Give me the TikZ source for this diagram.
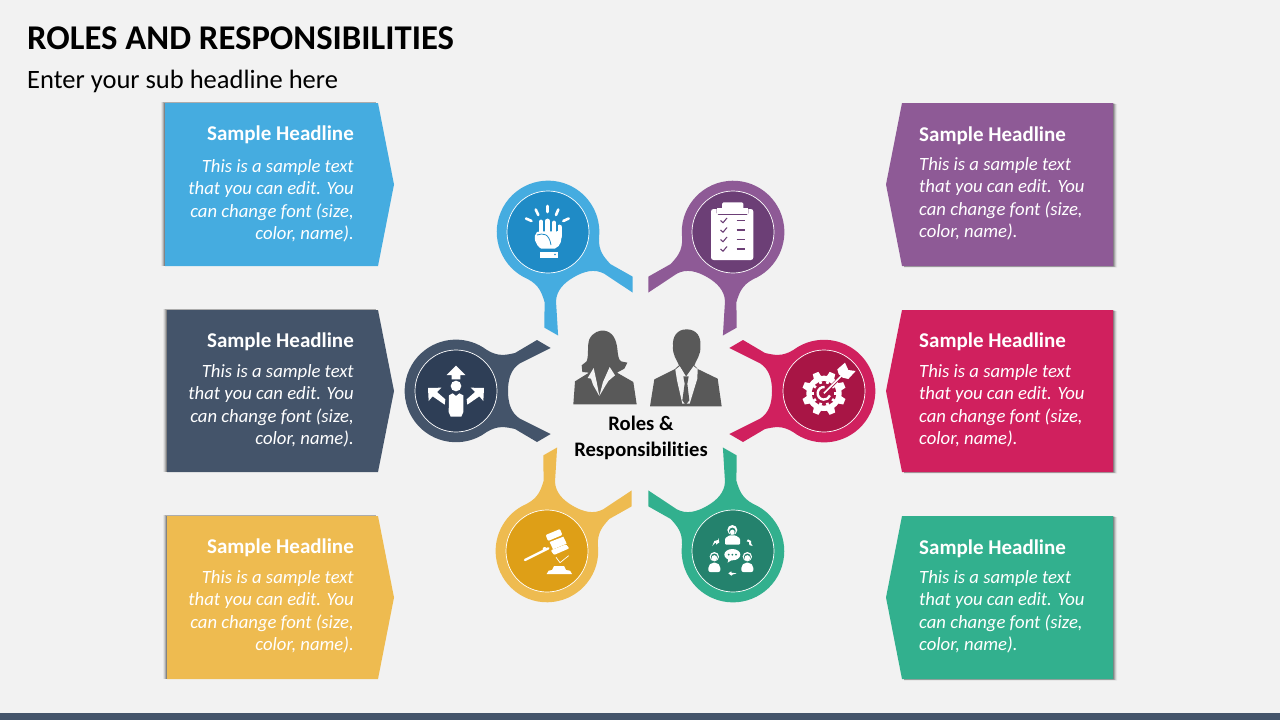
\documentclass[tikz,border=0pt]{standalone}
\usepackage{fontspec}
\setmainfont[Ligatures=CommonOff]{Carlito}
\definecolor{bgc}{HTML}{F2F2F2}
\definecolor{bluea}{HTML}{45ACE0}\definecolor{blueb}{HTML}{1F8BC6}
\definecolor{purpa}{HTML}{8E5A96}\definecolor{purpb}{HTML}{6C3F76}
\definecolor{navya}{HTML}{44546A}\definecolor{navyb}{HTML}{2E3E56}
\definecolor{reda}{HTML}{D0205E}\definecolor{redb}{HTML}{A81545}
\definecolor{yela}{HTML}{EEBB50}\definecolor{yelb}{HTML}{DE9F17}
\definecolor{grna}{HTML}{32B08E}\definecolor{grnb}{HTML}{24826D}
\definecolor{sil}{HTML}{595959}
\tikzset{
 headtxt/.style={text=white,inner sep=0pt,font=\fontsize{21}{25}\selectfont\bfseries},
 bodytxt/.style={text=white,inner sep=0pt,font=\fontsize{18.7}{22.6}\selectfont\itshape},
 ring/.style={draw=white,line width=0.7pt},
 ic/.style={fill=white,draw=none},
 ray/.style={draw=white,line width=2.6pt,line cap=round},
}
\newcommand{\blob}[5]{%
 \begin{scope}[shift={(#1,#2)}]
 \begin{scope}[rotate=#3]
 \fill[#4] (30.7,41) arc[start angle=53.2,end angle=306.8,radius=51.3]
  .. controls (42,-34) and (50,-36) .. (59,-38) -- (81,-51) -- (94.7,-43) -- (64,-27.7)
  .. controls (55,-22) and (52,-12) .. (52,0)
  .. controls (52,12) and (55,22) .. (64,27.7) -- (94.7,43) -- (81,51) -- (59,38)
  .. controls (50,36) and (42,34) .. (30.7,41) -- cycle;
 \end{scope}
 \fill[#5] (0,0) circle[radius=41];
 \draw[ring] (0,0) circle[radius=41];
 \end{scope}}
% left box: name, top, bottom, left, colour, headline y, body y
\newcommand{\infoL}[7]{%
 \pgfmathsetmacro{\ymid}{(#2+#3)/2}
 \foreach \d/\o in {1/0.22,2/0.16,3/0.10,4/0.05}{
  \fill[black,opacity=\o] (#4-\d,#2-\d*0.3) -- (376,#2-\d*0.3) -- (376,#3) -- (#4-\d,#3) -- cycle;}
 \fill[#5] (#4,#2) -- (378,#2) -- (394,\ymid) -- (378,#3) -- (#4,#3) -- cycle;
 \node[headtxt,anchor=base east] (#1h) at (354,#6) {Sample Headline};
 \node[bodytxt,anchor=north east,align=right] (#1b) at (354,#7) {This is a sample text\\that you can edit. You\\can change font (size,\\color, name).};}
\newcommand{\infoR}[6]{%
 \pgfmathsetmacro{\ymid}{(#2+#3)/2}
 \foreach \d/\o in {1/0.22,2/0.16,3/0.10,4/0.05}{
  \fill[black,opacity=\o] (904,#2) -- (1113+\d,#2+\d*0.3) -- (1113+\d,#3+\d*0.4) -- (904,#3+\d*0.4) -- cycle;}
 \fill[#4] (902,#2) -- (1113,#2) -- (1113,#3) -- (902,#3) -- (886,\ymid) -- cycle;
 \node[headtxt,anchor=base west] (#1h) at (919,#5) {Sample Headline};
 \node[bodytxt,anchor=north west,align=left] (#1b) at (919,#6) {This is a sample text\\that you can edit. You\\can change font (size,\\color, name).};}
\begin{document}
\begin{tikzpicture}[x=1pt,y=-1pt]
\useasboundingbox (0,0) rectangle (1280,720);
\fill[bgc] (0,0) rectangle (1280,720);
\fill[navya] (0,713) rectangle (1280,720);
\node[anchor=base west,inner sep=0pt,font=\fontsize{34.7}{40}\selectfont\bfseries] (title) at (27,49) {ROLES AND RESPONSIBILITIES};
\node[anchor=base west,inner sep=0pt,font=\fontsize{26.5}{31}\selectfont] (sub) at (27,88) {Enter your sub headline here};

\infoL{ba}{103}{266}{165}{bluea}{140}{159}
\infoL{bb}{310}{472}{167}{navya}{347}{364}
\infoL{bc}{516}{679}{167}{yela}{553}{570}
\infoR{ca}{103}{266}{purpa}{141}{157}
\infoR{cb}{310}{472}{reda}{347}{364}
\infoR{cc}{516}{679}{grna}{554}{570}

\blob{548}{232}{-60}{bluea}{blueb}
\blob{733}{232}{-120}{purpa}{purpb}
\blob{456}{391}{0}{navya}{navyb}
\blob{824}{391}{180}{reda}{redb}
\blob{547}{551}{60}{yela}{yelb}
\blob{733}{551}{120}{grna}{grnb}

% fist
\draw[ray] (547.3,206) -- (547.3,212);
\draw[ray] (535.7,209.5) -- (538.3,215);
\draw[ray] (526,218.5) -- (531.5,221);
\draw[ray] (558.3,209.5) -- (556,215);
\draw[ray] (568.7,218.5) -- (563.3,221);
\draw[white,line width=4.8pt,line cap=round] (541,222)--(541,236);
\draw[white,line width=4.8pt,line cap=round] (547.7,221)--(547.7,236);
\draw[white,line width=4.8pt,line cap=round] (554,223)--(554,236);
\draw[white,line width=4.8pt,line cap=round] (559.3,227)--(559.3,236);
\draw[blueb,line width=0.5pt] (544.4,220) -- (544.4,231) (551,221) -- (551,231) (556.8,224) -- (556.8,231);
\fill[ic] (537,232) .. controls (541,231) and (556,231) .. (561.5,232) .. controls (562,240) and (561,246) .. (555,248.5) -- (541,248.5) .. controls (536,246) and (532,236) .. (537,232) -- cycle;
\draw[blueb,line width=0.8pt] (537,235) .. controls (543,233) and (549,233) .. (551,245);
\fill[ic] (540,251.7) rectangle (557.7,257.7);
\fill[blueb] (555,254.5) circle[radius=0.8];

% clipboard
\fill[ic,rounded corners=2.5pt] (711,209) rectangle (753.3,260);
\fill[ic,rounded corners=1.5pt] (722,202.3) rectangle (743.3,212);
\draw[purpb,line width=0.7pt,rounded corners=1.5pt] (717,209) -- (717,214.5) -- (748,214.5) -- (748,209);
\fill[ic] (717.3,208) rectangle (747.7,214.1);
\foreach \yy in {220.5,230,239.5,249}{
 \draw[purpb,line width=1.1pt] (720.5,\yy) -- (723,\yy+2.2) -- (727,\yy-2.5);
 \draw[purpb,line width=1.1pt] (736.5,\yy) -- (745,\yy);
}

% navy person and arrows (zoom coordinates)
\begin{scope}[shift={(400,320)},scale=1/3]
\fill[ic] (140,165) -- (168,137) -- (196,165) -- (181,165) -- (181,178) -- (155,178) -- (155,165) -- cycle;
\fill[ic] (168,198) circle[radius=16];
\fill[ic] (147,226) -- (158,220) -- (168,228) -- (178,220) -- (190,226) -- (190,276) -- (184,290) -- (152,290) -- (146,276) -- cycle;
\fill[ic] (84,204) -- (124,203) -- (111,216) -- (136,238) -- (134,254) -- (98,229) -- (86,243) -- cycle;
\fill[ic] (252,204) -- (212,203) -- (225,216) -- (200,238) -- (202,254) -- (238,229) -- (250,243) -- cycle;
\end{scope}

% gear and arrow
\begin{scope}[shift={(780,350)},scale=1/3]
\begin{scope}[shift={(132,130)}]
\foreach \a in {0,45,...,315}{
 \begin{scope}[rotate=\a+22.5]
 \fill[ic] (50,-12) -- (66,-9) -- (66,9) -- (50,12) -- cycle;
 \end{scope}}
\fill[ic] (0,0) circle[radius=53];
\fill[redb] (0,0) circle[radius=37];
\foreach \a in {0,36,...,324}{
 \begin{scope}[rotate=\a]
 \fill[ic] (30,-4) rectangle (38,4);
 \end{scope}}
\draw[white,line width=2.4pt] (2,-19) arc[start angle=-84,end angle=-340,radius=19];
\end{scope}
\draw[redb,line width=3pt] (135,128) -- (180,82);
\draw[white,line width=1.6pt] (132,130) -- (190,72);
\fill[ic] (172,58) -- (195,38) -- (205,60) -- (227,63) -- (205,87) -- (188,83) -- (176,72) -- cycle;
\end{scope}

% gavel
\begin{scope}[shift={(480,440)},scale=1/3]
\draw[white,line width=2.4pt,line cap=round] (135,360) -- (205,325);
\fill[ic] (194,327) circle[radius=6];
\fill[ic,rounded corners=1pt] (197,285) -- (240,267) -- (247,285) -- (204,303) -- cycle;
\fill[ic] (209,306) -- (250,290) -- (260,311) -- (219,328) -- cycle;
\fill[ic,rounded corners=1pt] (212,331) -- (258,313) -- (268,325) -- (222,345) -- cycle;
\draw[white,line width=0.7pt] (228,352) -- (240,368) -- (266,347);
\fill[ic] (222,378) -- (252,378) -- (258,390) -- (270,392) -- (276,402) -- (200,402) -- (206,392) -- (216,390) -- cycle;
\end{scope}

% team
\begin{scope}[shift={(690,510)},scale=1/3]
\fill[ic] (127,60) circle[radius=15];
\fill[grnb] (127,63) circle[radius=10];
\fill[ic] (127,66) circle[radius=7];
\fill[ic,rounded corners=1pt] (105,104) -- (105,85) -- (118,76) -- (136,76) -- (150,85) -- (150,104) -- cycle;
\foreach \xx/\yy in {73/140,172/140}{
 \fill[ic] (\xx,\yy) circle[radius=14];
 \fill[grnb] (\xx,\yy+1) circle[radius=10.5];
 \fill[ic] (\xx,\yy+4) circle[radius=8.5];
 \fill[ic,rounded corners=2pt] (\xx-18,\yy+46) -- (\xx-18,\yy+28) -- (\xx-8,\yy+18) -- (\xx+8,\yy+18) -- (\xx+18,\yy+28) -- (\xx+18,\yy+46) -- cycle;
}
\fill[ic] (127,134) ellipse[x radius=24,y radius=17];
\fill[ic] (115,146) -- (113,158) -- (127,149) -- cycle;
\foreach \xx in {116,127,138}{\fill[grnb] (\xx,134) circle[radius=3];}
\fill[ic] (67,108) -- (73,93) -- (84,90) -- (85,84) -- (88,97) -- (78,104) -- (78,98) -- (74,100) -- cycle;
\fill[ic] (188,108) -- (178,105) -- (177,96) -- (170,94) -- (174,88) -- (183,93) -- (183,100) -- cycle;
\fill[ic] (115,190) -- (124,184) -- (124,188) -- (140,190) -- (127,194) -- (124,197) -- cycle;
\end{scope}

% woman and man silhouettes
\begin{scope}[shift={(565,322)},scale=1/3]
\fill[sil] (25,247) -- (30,178) -- (72,152) -- (52,150) -- (50,130) -- (65,118) .. controls (72,100) and (66,70) .. (73,52)
 .. controls (83,30) and (105,24) .. (118,26) .. controls (145,30) and (154,55) .. (157,80) .. controls (159,100) and (160,112) .. (168,118) -- (187,122) -- (178,140) -- (156,152) -- (205,180) -- (215,247) -- cycle;
\fill[bgc] (68,168) -- (86,138) -- (95,180) -- (103,222) -- (84,188) -- (78,170) -- cycle;
\fill[bgc] (134,135) -- (150,160) -- (131,176) -- (122,190) -- (103,222) -- (114,180) -- cycle;
\fill[sil] (255,253) -- (268,172) -- (330,141) -- (342,130) .. controls (335,112) and (322,100) .. (324,72) .. controls (322,45) and (335,22) .. (365,22)
 .. controls (395,22) and (409,45) .. (406,72) .. controls (408,100) and (394,112) .. (388,130) -- (398,141) -- (458,170) -- (470,253) -- cycle;
\fill[bgc] (331,143) -- (345,132) -- (362,162) -- (385,132) -- (398,142) -- (397,170) -- (374,245) -- (352,245) -- (336,175) -- cycle;
\fill[sil] (342,128) -- (388,128) -- (364,162) -- cycle;
\fill[sil] (355,163) -- (371,163) -- (367,185) -- (373,235) -- (362,249) -- (352,235) -- (359,185) -- cycle;
\end{scope}

\node[inner sep=0pt,align=center,font=\fontsize{20.6}{26}\selectfont\bfseries] (centre) at (641,438) {Roles \&\\Responsibilities};
\end{tikzpicture}
\end{document}
